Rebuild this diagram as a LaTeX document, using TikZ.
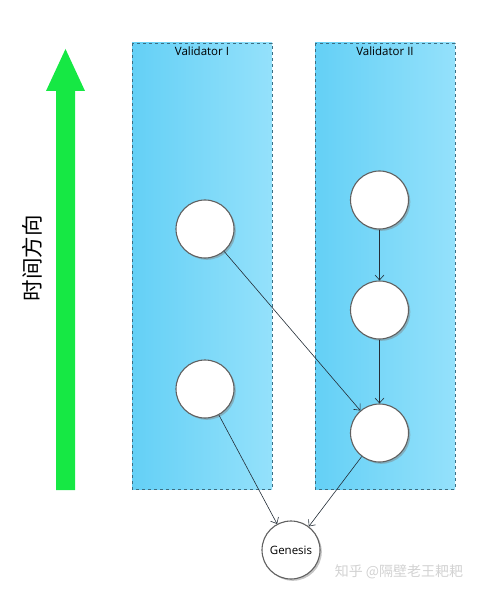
\documentclass[tikz,border=0pt]{standalone}
\usepackage{fontspec}
\usepackage{tikz}
\newfontfamily\labelfont{Open Sans}
\newfontfamily\cjk{Noto Sans CJK SC}
\usetikzlibrary{arrows.meta, shadows, positioning}
\definecolor{timegreen}{RGB}{22,232,68}
\definecolor{laneleft}{RGB}{100,208,246}
\definecolor{laneright}{RGB}{148,225,251}
\definecolor{laneborder}{RGB}{60,110,130}
\definecolor{edgecol}{RGB}{35,45,55}
\tikzset{
  lane/.style={draw=laneborder, dashed, line width=0.5pt, left color=laneleft, right color=laneright},
  block/.style={circle, draw=gray!75!black, line width=1.1pt, fill=white, minimum size=58pt, inner sep=0pt,
    drop shadow={opacity=0.45, shadow xshift=1.8pt, shadow yshift=-1.8pt}},
  link/.style={draw=edgecol, line width=0.6pt, -{Straight Barb[length=5pt,width=9pt]}}
}
\begin{document}
\begin{tikzpicture}[x=1pt,y=-1pt]
	\useasboundingbox (0,0) rectangle (477,593);
	% time arrow
	\fill [timegreen] (56,490) -- (56,91) -- (46,91) -- (65.5,49) -- (85,91) -- (75,91) -- (75,490) -- cycle;
	\node [rotate=90] (timelabel) at (32,258) {\cjk\fontsize{21.5}{21.5}\selectfont 时间方向};
	% lanes
	\path [lane] (132,43) rectangle (272,489);
	\path [lane] (315,43) rectangle (455,489);
	\node (laneA) at (202,51) {\labelfont\fontsize{11.5}{11.5}\selectfont Validator I};
	\node (laneB) at (385,51) {\labelfont\fontsize{11.5}{11.5}\selectfont Validator II};
	% blocks
	\node [block] (a2) at (205,229) {};
	\node [block] (a1) at (205,389) {};
	\node [block] (b3) at (379.5,200) {};
	\node [block] (b2) at (379.5,310) {};
	\node [block] (b1) at (379.5,433) {};
	\node [block] (genesis) at (291,550) {\labelfont\fontsize{11.5}{11.5}\selectfont Genesis};
	% links
	\draw [link] (a2) -- (b1);
	\draw [link] (b3) -- (b2);
	\draw [link] (b2) -- (b1);
	\draw [link] (a1) -- (genesis);
	\draw [link] (b1) -- (genesis);
	\node [text=gray!35] (mark) at (399,572) {\cjk\fontsize{14}{14}\selectfont 知乎 @隔壁老王耙耙};
\end{tikzpicture}
\end{document}
